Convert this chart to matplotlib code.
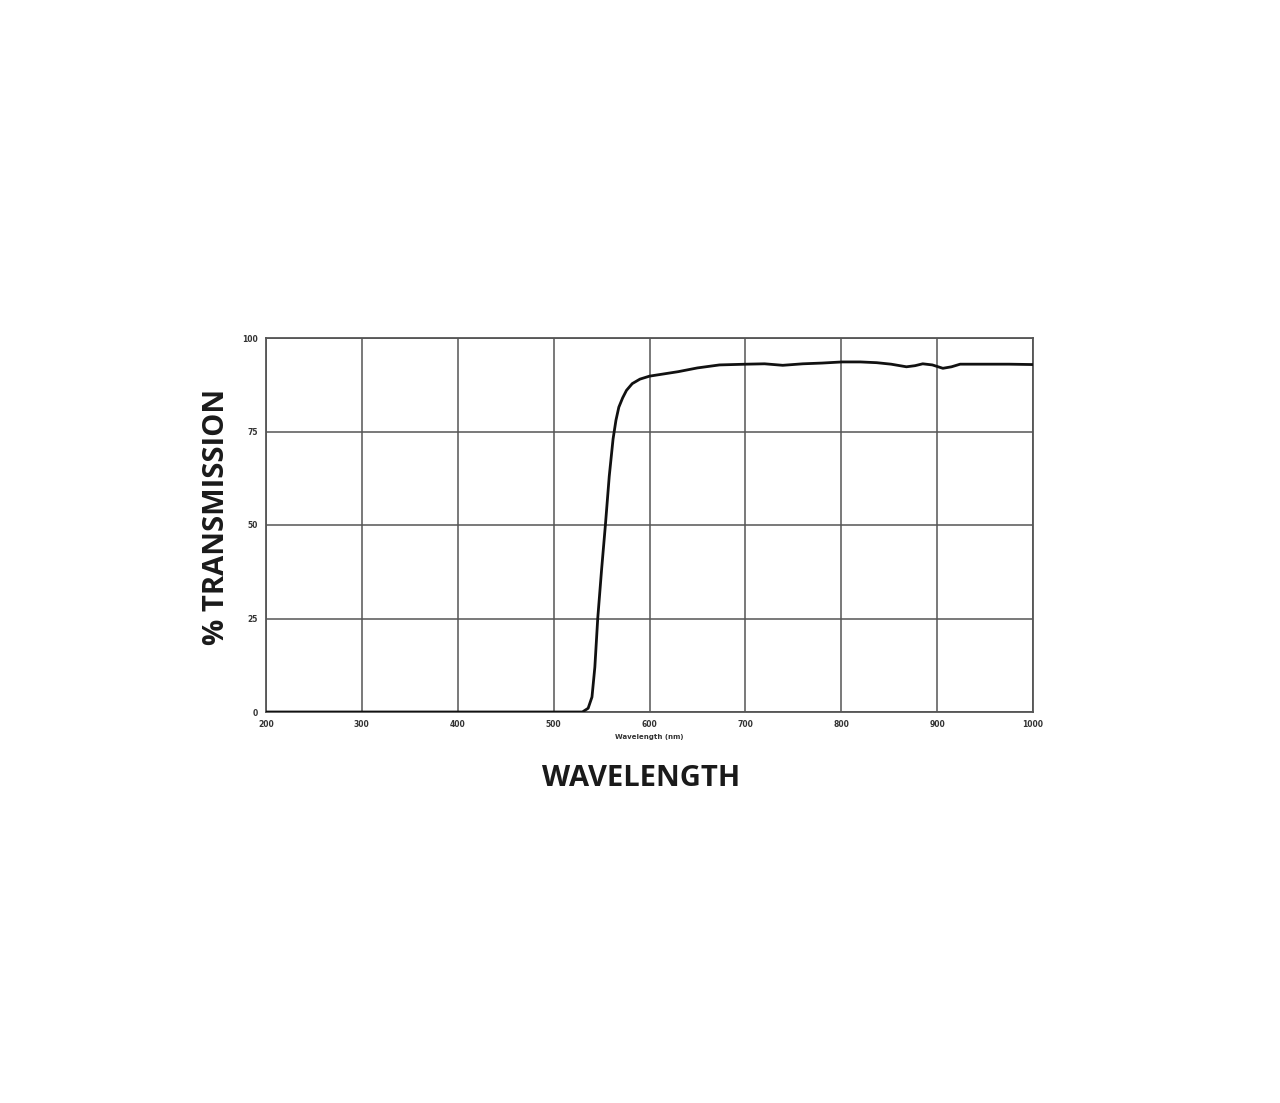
import matplotlib
matplotlib.use("Agg")
import matplotlib.pyplot as plt

wavelength = [200, 300, 400, 500, 522, 530, 536, 540, 543, 546, 550, 554, 558, 562, 565, 568, 572, 576, 582, 590, 600, 615, 630, 650, 673, 701, 720, 739, 760, 780, 801, 820, 837, 852, 868, 877, 885, 895, 906, 915, 924, 950, 975, 1000]
transmission = [0, 0, 0, 0, 0, 0, 1, 4, 12, 25, 38, 50, 63, 73, 78, 81.5, 84, 86, 87.8, 89, 89.8, 90.4, 91, 92, 92.8, 93, 93.1, 92.7, 93.1, 93.3, 93.6, 93.6, 93.4, 93.0, 92.3, 92.6, 93.1, 92.8, 91.9, 92.3, 93.0, 93.0, 93.0, 92.9]

x_ticks = [200, 300, 400, 500, 600, 700, 800, 900, 1000]
y_ticks = [0, 25, 50, 75, 100]

fig = plt.figure(figsize=(12.8, 11.03), dpi=100)
ax = fig.add_axes([266/1280, 1-712/1103, (1033-266)/1280, (712-338)/1103])
ax.plot(wavelength, transmission, color="#111111", lw=2.0, zorder=3)
ax.set_xlim(200, 1000)
ax.set_ylim(0, 100)
ax.set_xticks(x_ticks)
ax.set_yticks(y_ticks)
ax.set_xticklabels([str(v) for v in x_ticks], fontsize=5.5, fontweight="bold", color="#333333")
ax.set_yticklabels([str(v) for v in y_ticks], fontsize=5.5, fontweight="bold", color="#333333")
ax.tick_params(length=0, pad=6)
ax.grid(True, color="#555555", lw=1.1)
for s in ax.spines.values():
    s.set_color("#555555")
    s.set_linewidth(1.3)
ax.set_xlabel("Wavelength (nm)", fontsize=5, fontweight="bold", color="#333333", labelpad=3)

fig.text(641/1280, 1-778/1103, "WAVELENGTH", ha="center", va="center", fontsize=21,
         fontweight="bold", family="Open Sans", color="#1a1a1a")
fig.text(217/1280, 1-517/1103, "% TRANSMISSION", ha="center", va="center", rotation=90,
         fontsize=21, fontweight="bold", family="Open Sans", color="#1a1a1a")

fig.savefig("out.png", dpi=100, facecolor="white")
